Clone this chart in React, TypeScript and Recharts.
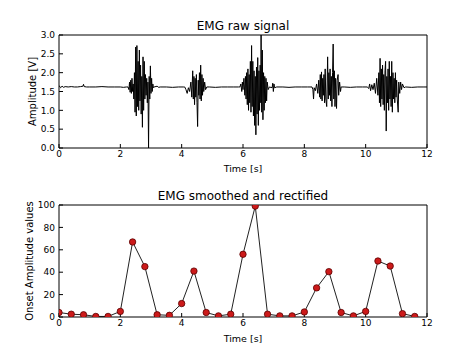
import React from 'react';
import { LineChart, Line, XAxis, YAxis } from 'recharts';

// ---- Top panel: EMG raw signal (time in s, amplitude in V) ----
const rawTime = [
  0, 0.05, 0.1, 0.15, 0.2, 0.3, 0.4, 0.5, 0.6, 0.7, 0.78, 0.8, 0.82, 0.9, 1.0, 1.2, 1.4, 1.6, 1.8, 2.0, 2.1, 2.2,
  2.25, 2.28, 2.3, 2.32, 2.34, 2.36, 2.38, 2.4, 2.42, 2.44, 2.46, 2.48, 2.5, 2.52, 2.54, 2.56, 2.58, 2.6, 2.62, 2.64,
  2.66, 2.68, 2.7, 2.72, 2.74, 2.76, 2.78, 2.8, 2.82, 2.84, 2.86, 2.88, 2.9, 2.92, 2.94, 2.96, 2.98, 3.0, 3.02, 3.04,
  3.06, 3.08, 3.1, 3.2, 3.25, 3.3, 3.5, 3.7, 3.9, 4.05,
  4.1, 4.14, 4.18, 4.22, 4.26, 4.3, 4.33, 4.36, 4.38, 4.4, 4.42, 4.44, 4.46, 4.48, 4.5, 4.52, 4.54, 4.56, 4.58, 4.6,
  4.62, 4.64, 4.66, 4.68, 4.7, 4.72, 4.75, 4.78, 4.82, 4.9, 5.1, 5.3, 5.5, 5.7, 5.85,
  5.9, 5.93, 5.96, 5.98, 6.0, 6.03, 6.06, 6.08, 6.1, 6.12, 6.14, 6.16, 6.18, 6.2, 6.22, 6.24, 6.26, 6.28, 6.3, 6.32,
  6.34, 6.36, 6.38, 6.4, 6.42, 6.44, 6.46, 6.48, 6.5, 6.52, 6.54, 6.56, 6.58, 6.59, 6.61, 6.63, 6.65, 6.67, 6.69,
  6.71, 6.73, 6.75, 6.77, 6.79, 6.82, 6.86, 6.95, 6.97, 6.99, 7.01, 7.03, 7.1, 7.3, 7.5, 7.7, 7.9, 8.1,
  8.25, 8.28, 8.3, 8.32, 8.36, 8.4, 8.44, 8.47, 8.5, 8.52, 8.54, 8.56, 8.58, 8.6, 8.62, 8.64, 8.66, 8.68, 8.7, 8.73,
  8.76, 8.78, 8.8, 8.82, 8.84, 8.86, 8.88, 8.9, 8.92, 8.94, 8.96, 8.98, 9.0, 9.02, 9.05, 9.07, 9.1, 9.12, 9.15, 9.18,
  9.2, 9.3, 9.5, 9.7, 9.9,
  10.05, 10.1, 10.13, 10.16, 10.2, 10.24, 10.28, 10.32, 10.36, 10.4, 10.43, 10.45, 10.47, 10.49, 10.51, 10.53, 10.55,
  10.57, 10.59, 10.61, 10.63, 10.65, 10.67, 10.69, 10.71, 10.73, 10.75, 10.77, 10.79, 10.81, 10.83, 10.85, 10.87,
  10.89, 10.91, 10.93, 10.95, 10.97, 10.99, 11.01, 11.03, 11.06, 11.08, 11.11, 11.14, 11.17, 11.2, 11.25, 11.3,
  11.5, 11.7, 11.9, 12.0,
];
const rawVolt = [
  1.66, 1.6, 1.64, 1.61, 1.63, 1.62, 1.63, 1.62, 1.62, 1.63, 1.64, 1.69, 1.63, 1.62, 1.62, 1.62, 1.63, 1.62, 1.62, 1.62, 1.61, 1.62,
  1.62, 1.55, 1.75, 1.48, 1.8, 1.45, 1.85, 1.5, 1.7, 1.3, 2.0, 0.95, 2.68, 0.85, 2.72, 1.1, 2.3, 1.0, 2.6, 1.25,
  2.2, 0.9, 1.9, 0.55, 2.42, 1.0, 2.3, 1.3, 1.95, 1.4, 1.85, 1.2, 1.75, 0.0, 1.9, 1.3, 2.18, 1.45, 1.85, 1.5,
  1.7, 1.6, 1.62, 1.64, 1.61, 1.62, 1.62, 1.61, 1.62, 1.62,
  1.62, 1.55, 1.45, 1.6, 1.5, 1.75, 1.35, 2.05, 1.3, 1.9, 1.15, 1.85, 1.35, 1.95, 1.2, 0.57, 1.8, 1.4, 2.0, 1.3,
  2.2, 1.25, 1.95, 1.4, 1.85, 1.5, 1.75, 1.55, 1.62, 1.62, 1.61, 1.62, 1.62, 1.62, 1.62,
  1.62, 1.7, 1.5, 1.75, 1.55, 1.85, 1.4, 1.9, 1.3, 2.0, 1.15, 2.1, 1.0, 1.95, 1.2, 2.3, 0.95, 2.72, 1.1, 2.3,
  0.85, 2.05, 0.6, 1.9, 0.35, 2.15, 0.9, 2.4, 0.6, 2.05, 1.0, 2.2, 1.2, 3.0, 0.95, 2.6, 0.75, 2.0, 1.0,
  1.9, 1.2, 1.85, 1.25, 1.75, 1.55, 1.62, 1.6, 1.72, 1.5, 1.7, 1.6, 1.62, 1.62, 1.61, 1.62, 1.62, 1.62,
  1.62, 1.55, 1.3, 1.6, 1.52, 1.7, 1.45, 1.8, 1.35, 1.95, 1.3, 2.02, 1.25, 1.85, 1.4, 1.95, 1.2, 2.1, 1.3, 1.1,
  2.42, 1.3, 2.0, 1.4, 2.1, 1.25, 1.9, 1.1, 2.0, 2.76, 1.3, 2.05, 1.1, 1.85, 1.05, 1.8, 1.95, 1.4, 1.75, 1.5,
  1.62, 1.62, 1.61, 1.62, 1.62,
  1.62, 1.58, 1.7, 1.52, 1.68, 1.55, 1.72, 1.45, 1.85, 1.4, 2.0, 1.2, 2.38, 1.1, 2.1, 1.3, 2.2,
  1.15, 1.95, 1.0, 2.05, 2.3, 0.45, 1.9, 1.2, 2.1, 1.0, 2.3, 1.3, 1.9, 1.1, 2.3, 0.95,
  2.0, 1.3, 1.85, 1.2, 2.0, 1.35, 1.8, 1.3, 0.95, 1.75, 1.45, 1.75, 1.55, 1.7, 1.6, 1.62,
  1.61, 1.62, 1.62, 1.62,
];

// ---- Bottom panel: EMG smoothed and rectified ----
const onsetTime = [
  0, 0.4, 0.8, 1.2, 1.6, 2.0, 2.4, 2.8, 3.2, 3.6, 4.0, 4.4, 4.8, 5.2, 5.6,
  6.0, 6.4, 6.8, 7.2, 7.6, 8.0, 8.4, 8.8, 9.2, 9.6, 10.0, 10.4, 10.8, 11.2, 11.6,
];
const onsetValue = [
  4, 2.5, 2, 0.5, 0.5, 5, 67, 45, 2, 1.5, 12, 41, 4, 1, 2.5,
  56, 99, 2.5, 1, 1, 4.5, 26, 40.5, 4, 1, 5, 50, 45.5, 3, 0.5,
];

const timeTicks = [0, 2, 4, 6, 8, 10, 12];
const voltTicks = [0, 0.5, 1.0, 1.5, 2.0, 2.5, 3.0];
const onsetTicks = [0, 20, 40, 60, 80, 100];

const rawData = rawTime.map((t, i) => ({ t, v: rawVolt[i] }));
const onsetData = onsetTime.map((t, i) => ({ t, v: onsetValue[i] }));

const FONT = 'DejaVu Sans, Verdana, sans-serif';
const tickStyle = { fontSize: 9, fill: '#000', fontFamily: FONT };
const axisLine = { stroke: '#000', strokeWidth: 1 };
const tickLine = { stroke: '#000', strokeWidth: 1 };
const xLabelStyle = { fontSize: 9.5, fill: '#000', fontFamily: FONT };
const yLabelStyle = { fontSize: 10, fill: '#000', fontFamily: FONT, textAnchor: 'middle' as const };

const RedDot = (p: any) => {
  const { cx, cy } = p;
  if (cx == null || cy == null) return null;
  return <circle cx={cx} cy={cy} r={3.2} fill="#cc1a1a" stroke="#5a0000" strokeWidth={0.8} />;
};

export default function App() {
  const W = 474;
  return (
    <div style={{ position: 'absolute', left: 0, top: 0, width: W, height: 353, background: '#fff', fontFamily: FONT }}>
      <div style={{ position: 'absolute', left: 59, width: 368, top: 18, textAlign: 'center', fontSize: 12, lineHeight: '16px', color: '#000' }}>
        EMG raw signal
      </div>
      <div style={{ position: 'absolute', left: 59, width: 368, top: 188, textAlign: 'center', fontSize: 12, lineHeight: '16px', color: '#000' }}>
        EMG smoothed and rectified
      </div>

      <div style={{ position: 'absolute', left: 0, top: 0 }}>
        <LineChart width={W} height={176} data={rawData} margin={{ top: 34, right: 46, left: 0, bottom: 0 }}>
          <XAxis
            xAxisId="b"
            dataKey="t"
            type="number"
            domain={[0, 12]}
            ticks={timeTicks}
            allowDataOverflow
            height={28}
            axisLine={axisLine}
            tickLine={tickLine}
            tickSize={-4}
            tickMargin={7}
            tick={tickStyle}
            label={{ value: 'Time [s]', position: 'insideTop', offset: 17, style: xLabelStyle }}
          />
          <XAxis
            xAxisId="t"
            dataKey="t"
            type="number"
            orientation="top"
            domain={[0, 12]}
            ticks={timeTicks}
            height={1}
            axisLine={axisLine}
            tickLine={tickLine}
            tickSize={-4}
            tick={false}
          />
          <YAxis
            yAxisId="l"
            type="number"
            domain={[0, 3]}
            ticks={voltTicks}
            allowDataOverflow
            width={59}
            axisLine={axisLine}
            tickLine={tickLine}
            tickSize={-4}
            tickMargin={8}
            tick={tickStyle}
            tickFormatter={(v: number) => v.toFixed(1)}
            label={{ value: 'Amplitude [V]', angle: -90, position: 'insideLeft', offset: 32, style: yLabelStyle }}
          />
          <YAxis
            yAxisId="r"
            orientation="right"
            type="number"
            domain={[0, 3]}
            ticks={voltTicks}
            width={1}
            axisLine={axisLine}
            tickLine={tickLine}
            tickSize={-4}
            tick={false}
          />
          <Line
            xAxisId="b"
            yAxisId="l"
            type="linear"
            dataKey="v"
            stroke="#000"
            strokeWidth={1}
            dot={false}
            isAnimationActive={false}
          />
        </LineChart>
      </div>

      <div style={{ position: 'absolute', left: 0, top: 176 }}>
        <LineChart width={W} height={177} data={onsetData} margin={{ top: 28, right: 46, left: 0, bottom: 0 }}>
          <XAxis
            xAxisId="b"
            dataKey="t"
            type="number"
            domain={[0, 12]}
            ticks={timeTicks}
            allowDataOverflow
            height={36}
            axisLine={axisLine}
            tickLine={tickLine}
            tickSize={-4}
            tickMargin={7}
            tick={tickStyle}
            label={{ value: 'Time [s]', position: 'insideTop', offset: 18, style: xLabelStyle }}
          />
          <XAxis
            xAxisId="t"
            dataKey="t"
            type="number"
            orientation="top"
            domain={[0, 12]}
            ticks={timeTicks}
            height={1}
            axisLine={axisLine}
            tickLine={tickLine}
            tickSize={-4}
            tick={false}
          />
          <YAxis
            yAxisId="l"
            type="number"
            domain={[0, 100]}
            ticks={onsetTicks}
            allowDataOverflow
            width={59}
            axisLine={axisLine}
            tickLine={tickLine}
            tickSize={-4}
            tickMargin={8}
            tick={tickStyle}
            label={{ value: 'Onset Amplitude values', angle: -90, position: 'insideLeft', offset: 29, style: yLabelStyle }}
          />
          <YAxis
            yAxisId="r"
            orientation="right"
            type="number"
            domain={[0, 100]}
            ticks={onsetTicks}
            width={1}
            axisLine={axisLine}
            tickLine={tickLine}
            tickSize={-4}
            tick={false}
          />
          <Line
            xAxisId="b"
            yAxisId="l"
            type="linear"
            dataKey="v"
            stroke="#222"
            strokeWidth={1}
            dot={<RedDot />}
            isAnimationActive={false}
          />
        </LineChart>
      </div>
    </div>
  );
}
